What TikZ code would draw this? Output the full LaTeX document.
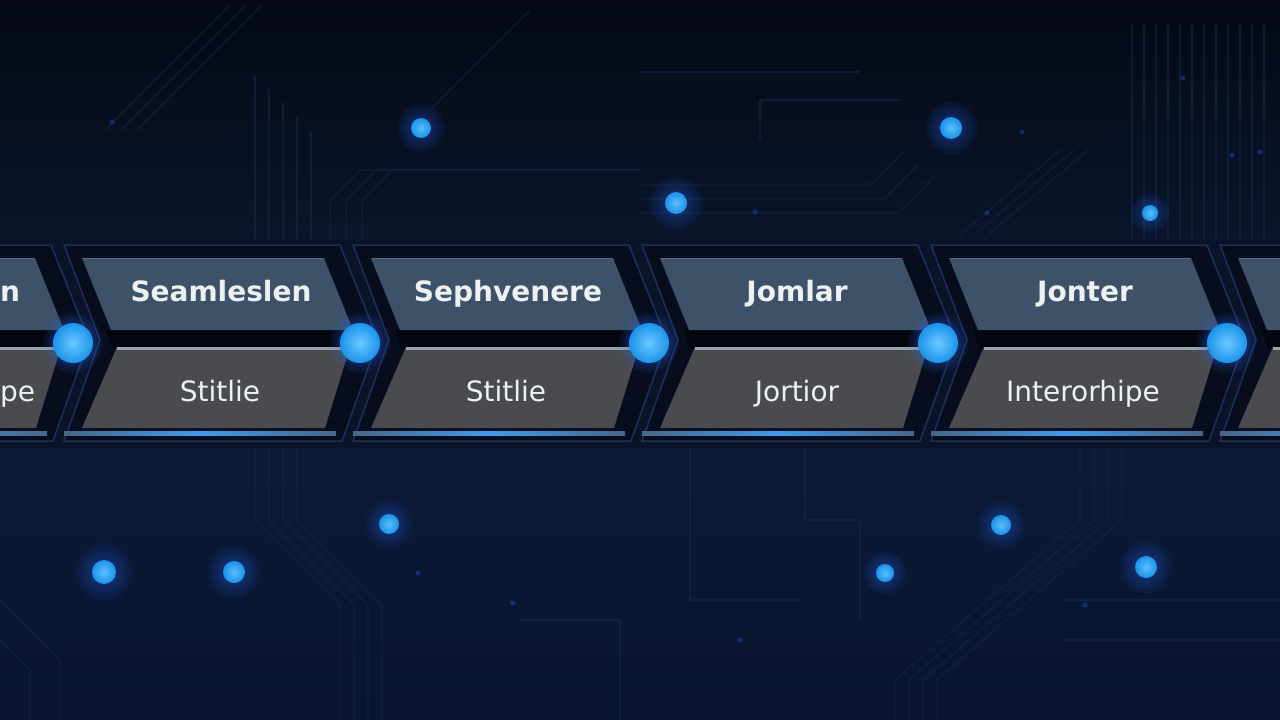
\documentclass[tikz,border=0pt]{standalone}
\usepackage{fontspec}
\setmainfont{DejaVu Sans}
\definecolor{bgtop}{HTML}{040913}
\definecolor{bgmid}{HTML}{0D1C38}
\definecolor{bgbot}{HTML}{091530}
\definecolor{trace}{HTML}{142A52}
\definecolor{bandc}{HTML}{0A1328}
\definecolor{framec}{HTML}{070D1C}
\definecolor{frameedge}{HTML}{1C2F5C}
\definecolor{gapc}{HTML}{03060C}
\definecolor{topbox}{HTML}{3D5169}
\definecolor{topedge}{HTML}{586B82}
\definecolor{botbox}{HTML}{4A4B4F}
\definecolor{boxedge}{HTML}{9AA4AE}
\definecolor{dotblue}{HTML}{1B93EA}
\definecolor{dotlight}{HTML}{6CC8FF}
\definecolor{glowblue}{HTML}{2A6CFF}
\definecolor{linegray}{HTML}{4A6688}
\definecolor{linebright}{HTML}{3C9CF0}
\definecolor{txt}{HTML}{EEF1F4}
\tikzset{
  tracestyle/.style={draw=trace, line width=1.1pt, opacity=0.5},
  framestyle/.style={fill=framec, draw=frameedge, line width=1.5pt},
  topstyle/.style={fill=topbox},
  botstyle/.style={fill=botbox},
  toplabel/.style={text=txt, font=\bfseries\fontsize{28}{30}\selectfont, inner sep=0pt, anchor=base},
  botlabel/.style={text=txt, font=\fontsize{28}{30}\selectfont, inner sep=0pt, anchor=base},
  jointdot/.style={circle, minimum size=40pt, inner sep=0pt, shading=radial, inner color=dotlight, outer color=dotblue},
  spark/.style={circle, inner sep=0pt, shading=radial, inner color=dotlight!80!dotblue, outer color=dotblue}
}
\begin{document}
\begin{tikzpicture}[x=1pt,y=-1pt]
\useasboundingbox (0,0) rectangle (1280,720);
\clip (0,0) rectangle (1280,720);
% background
\shade[top color=bgtop, bottom color=bgbot, middle color=bgmid] (0,0) rectangle (1280,720);
% circuit traces
\foreach \i in {0,14,28,42,56}{
  \draw[tracestyle] (255+\i,240) -- (255+\i,75+\i);
}
\foreach \i in {0,16,32}{
  \draw[tracestyle] (105+\i,130) -- (230+\i,5);
  \draw[tracestyle] (330+\i,240) -- (330+\i,200) -- (360+\i,170) -- (640,170);
}
\draw[tracestyle] (430,110) -- (530,10);
\draw[tracestyle] (640,72) -- (860,72);
\draw[tracestyle] (760,140) -- (760,100) -- (900,100);
\foreach \i in {0,12,24,36,48,60,72,84,96,108,120,132}{
  \draw[tracestyle] (1132+\i,240) -- (1132+\i,25);
}
\foreach \i in {0,14,28}{
  \draw[tracestyle] (960+\i,235) -- (1060+\i,150);
  \draw[tracestyle] (640,185+\i) -- (870+\i,185+\i) -- (905+\i,150+\i);
}
% lower traces
\foreach \i in {0,14,28,42}{
  \draw[tracestyle] (255+\i,448) -- (255+\i,520) -- (340+\i,605) -- (340+\i,720);
  \draw[tracestyle] (895+\i,720) -- (895+\i,680) -- (1080+\i,520) -- (1080+\i,448);
}
\draw[tracestyle] (0,600) -- (60,660) -- (60,720);
\draw[tracestyle] (0,640) -- (30,670) -- (30,720);
\draw[tracestyle] (690,448) -- (690,600) -- (800,600);
\draw[tracestyle] (805,448) -- (805,520) -- (860,520) -- (860,620);
\draw[tracestyle] (1060,600) -- (1280,600);
\draw[tracestyle] (1060,640) -- (1280,640);
\draw[tracestyle] (520,620) -- (620,620) -- (620,720);
% dark band
\fill[bandc] (0,240) rectangle (1280,448);
% chevrons
\foreach \k in {-1,0,1,2,3,4}{
  \pgfmathsetmacro{\o}{289*\k}
  \path[framestyle] (\o+64,245) -- (\o+340,245) -- (\o+378,340) -- (\o+342,441) -- (\o+64,441) -- (\o+100,340) -- cycle;
  \fill[gapc] (\o+106,329) -- (\o+356,329) -- (\o+353,348) -- (\o+112,348) -- cycle;
  \path[topstyle] (\o+82,258) -- (\o+324,258) -- (\o+353,330) -- (\o+111,330) -- cycle;
  \draw[topedge, line width=1pt] (\o+83,258.5) -- (\o+323,258.5);
  \path[botstyle] (\o+117,347) -- (\o+350,347) -- (\o+325,428) -- (\o+82,428) -- cycle;
  \draw[boxedge, line width=2.5pt] (\o+117,348.5) -- (\o+350,348.5);
  \shade[left color=linegray, right color=linegray, middle color=linebright] (\o+64,431) rectangle (\o+336,435);
}
% labels
\node[toplabel, anchor=base west] (t0) at (0,301) {n};
\node[botlabel, anchor=base west] (b0) at (0,401) {pe};
\node[toplabel] (t1) at (221,301) {Seamleslen};
\node[botlabel] (b1) at (220,401) {Stitlie};
\node[toplabel] (t2) at (508,301) {Sephvenere};
\node[botlabel] (b2) at (506,401) {Stitlie};
\node[toplabel] (t3) at (797,301) {Jomlar};
\node[botlabel] (b3) at (797,401) {Jortior};
\node[toplabel] (t4) at (1085,301) {Jonter};
\node[botlabel] (b4) at (1083,401) {Interorhipe};
% joint dots
\foreach \x [count=\n] in {73,360,649,938,1227}{
  \foreach \rr in {30,27,24,22}{
    \fill[glowblue, opacity=0.08] (\x,343) circle (\rr);
  }
  \node[jointdot] (j\n) at (\x,343) {};
}
% scattered glowing dots
\foreach \x/\y/\r [count=\n] in {421/128/10, 951/128/11, 676/203/11, 1150/213/8, 104/572/12, 234/572/11, 389/524/10, 1001/525/10, 885/573/9, 1146/567/11}{
  \foreach \f in {2.4,2.1,1.8,1.5,1.25}{
    \fill[glowblue, opacity=0.06] (\x,\y) circle (\r*\f);
  }
  \node[spark, minimum size=2*\r pt] (s\n) at (\x,\y) {};
}
% faint specks
\foreach \x/\y [count=\n] in {112/122, 755/212, 987/213, 1022/132, 1183/78, 1232/155, 1260/152, 740/640, 418/573, 513/603, 1085/605}{
  \fill[glowblue, opacity=0.3] (\x,\y) circle (2.5);
}
\end{tikzpicture}
\end{document}
